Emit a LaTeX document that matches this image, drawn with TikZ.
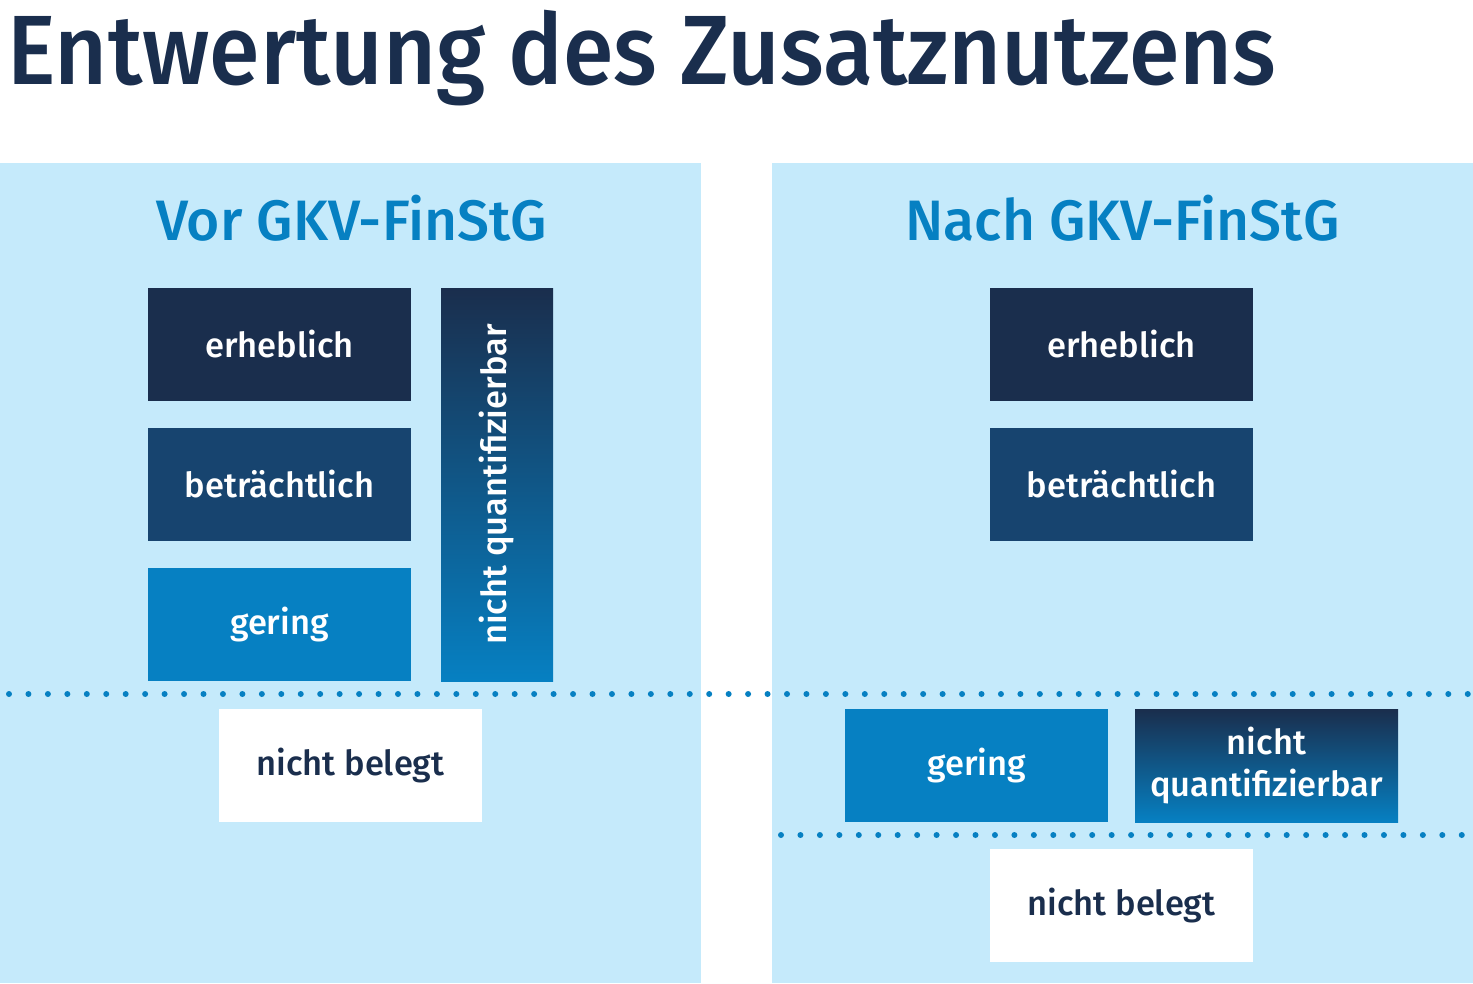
\documentclass[tikz,border=0pt]{standalone}
\usepackage{fontspec}
\setmainfont{Fira Sans}
\newfontfamily\medfont{Fira Sans Medium}
\newfontfamily\titlefont{Fira Sans Medium}[FakeStretch=0.93]
\usetikzlibrary{positioning}
\definecolor{panel}{HTML}{C5EAFB}
\definecolor{navy}{HTML}{1A2E4D}
\definecolor{midblue}{HTML}{17446F}
\definecolor{brightblue}{HTML}{0680C2}
\begin{document}
\begin{tikzpicture}[x=1pt,y=-1pt,
  panelbox/.style={fill=panel,draw=none,inner sep=0pt,outer sep=0pt,anchor=north west},
  gbox/.style={draw=none,inner sep=0pt,outer sep=0pt,minimum width=263pt,minimum height=113pt,anchor=north west,
    text=white,font=\medfont\fontsize{34.5}{40}\selectfont,align=center},
  erh/.style={gbox,fill=navy},
  betr/.style={gbox,fill=midblue},
  ger/.style={gbox,fill=brightblue},
  grad/.style={gbox,top color=navy,bottom color=brightblue},
  nb/.style={gbox,fill=white,text=navy},
  dotline/.style={brightblue,line width=6pt,line cap=round,dash pattern=on 0pt off 19.45pt},
  header/.style={text=brightblue,font=\medfont\fontsize{57}{66}\selectfont,inner sep=0pt,anchor=base}
]
\useasboundingbox (0,0) rectangle (1473,983);
\fill[white] (0,0) rectangle (1473,983);

\node[anchor=base west,inner sep=0pt,text=navy,font=\titlefont\fontsize{98.5}{110}\selectfont] (title) at (7,84) {Entwertung des Zusatznutzens};

\node[panelbox,minimum width=701pt,minimum height=820pt] (lp) at (0,163) {};
\node[panelbox,minimum width=701pt,minimum height=820pt] (rp) at (772,163) {};

\node[header] (lh) at (351.5,240) {Vor GKV-FinStG};
\node[header] (rh) at (1122.5,240) {Nach GKV-FinStG};

% left panel
\node[erh] (l1) at (148,288) {erheblich};
\node[betr] (l2) at (148,428) {beträchtlich};
\node[ger] (l3) at (148,568) {gering};
\node[grad,minimum width=112pt,minimum height=393pt] (l4) at (441,288) {};
\node[text=white,font=\medfont\fontsize{34.5}{40}\selectfont,rotate=90,inner sep=0pt] (l4t) at (l4.center) {nicht quantifizierbar};
\node[nb] (l5) at (219,709) {nicht belegt};

% right panel
\node[erh] (r1) at (990,288) {erheblich};
\node[betr] (r2) at (990,428) {beträchtlich};
\node[ger] (r3) at (845,709) {gering};
\node[grad] (r4) at (1135,709) {nicht\\[2pt]quantifizierbar};
\node[nb] (r5) at (990,849) {nicht belegt};

% dotted lines
\coordinate (d1a) at (9,694);
\coordinate (d1b) at (1470,694);
\coordinate (d2a) at (781,835);
\coordinate (d2b) at (1470,835);
\draw[dotline] (d1a) -- (d1b);
\draw[dotline] (d2a) -- (d2b);
\end{tikzpicture}
\end{document}
